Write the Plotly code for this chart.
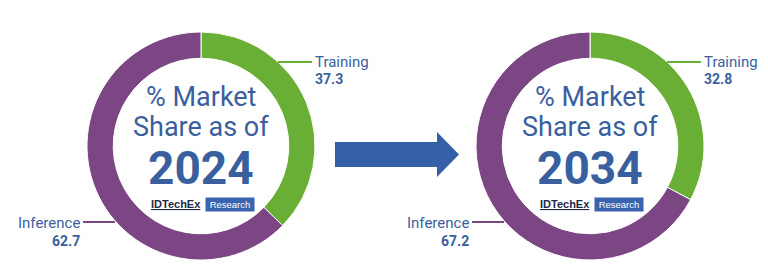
import plotly.graph_objects as go

labels = ["Training", "Inference"]
share_2024 = [37.3, 62.7]
share_2034 = [32.8, 67.2]
years = ["2024", "2034"]

GREEN = "#6AAF35"
PURPLE = "#7B4683"
BLUE = "#3A5F9E"
ARROW = "#3560A8"
W, H = 768, 268

def px(x):
    return x / W

def py(y):
    return 1 - y / H

fig = go.Figure()
centers = [(201, 146), (590, 146)]
R = 114
for (cx, cy), vals in zip(centers, [share_2024, share_2034]):
    fig.add_trace(go.Pie(
        labels=labels, values=vals, hole=0.77, sort=False, direction="clockwise",
        rotation=0, textinfo="none", hoverinfo="label+value",
        marker=dict(colors=[GREEN, PURPLE], line=dict(color="white", width=1)),
        domain=dict(x=[px(cx - R), px(cx + R)], y=[py(cy + R), py(cy - R)]),
        showlegend=False,
    ))

annotations = []
font = "Roboto"
for (cx, cy), yr, vals in zip(centers, years, [share_2024, share_2034]):
    annotations += [
        dict(x=px(cx), y=py(97), text="% Market", font=dict(family=font, size=27, color=BLUE)),
        dict(x=px(cx), y=py(127), text="Share as of", font=dict(family=font, size=27, color=BLUE)),
        dict(x=px(cx), y=py(168), text=f"<b>{yr}</b>", font=dict(family=font, size=46, color=BLUE)),
        dict(x=px(cx + 1), y=py(204), xanchor="right", text="<b><u>IDTechEx</u></b>",
             font=dict(family="Liberation Sans", size=11, color="#1E2A44")),
        dict(x=px(cx + 4), y=py(204), xanchor="left", text=" Research ", bgcolor="#3A64B0",
             font=dict(family="Liberation Sans", size=9.5, color="white"), borderpad=1),
        # Training label
        dict(x=px(cx + 113), y=py(62), xanchor="left", text=labels[0],
             font=dict(family=font, size=15, color=BLUE)),
        dict(x=px(cx + 113), y=py(79), xanchor="left", text=f"<b>{vals[0]}</b>",
             font=dict(family=font, size=14, color=BLUE)),
        # Inference label
        dict(x=px(cx - 120), y=py(223), xanchor="right", text=labels[1],
             font=dict(family=font, size=15, color=BLUE)),
        dict(x=px(cx - 120), y=py(241), xanchor="right", text=f"<b>{vals[1]}</b>",
             font=dict(family=font, size=14, color=BLUE)),
    ]
for a in annotations:
    a.update(xref="paper", yref="paper", showarrow=False, borderpad=a.get("borderpad", 0))
    a.setdefault("xanchor", "center")
    a.setdefault("yanchor", "middle")

shapes = []
for (cx, cy) in centers:
    shapes.append(dict(type="line", xref="paper", yref="paper",
                       x0=px(cx + 77), y0=py(62), x1=px(cx + 111), y1=py(62),
                       line=dict(color=GREEN, width=2)))
    shapes.append(dict(type="line", xref="paper", yref="paper",
                       x0=px(cx - 118), y0=py(222), x1=px(cx - 86), y1=py(222),
                       line=dict(color=PURPLE, width=2)))

# arrow
pts = [(335, 142), (437, 142), (437, 132), (459, 154.5), (437, 177), (437, 167), (335, 167)]
path = "M " + " L ".join(f"{px(x)},{py(y)}" for x, y in pts) + " Z"
shapes.append(dict(type="path", xref="paper", yref="paper", path=path,
                   fillcolor=ARROW, line=dict(width=0)))

fig.update_layout(width=W, height=H, margin=dict(l=0, r=0, t=0, b=0),
                  paper_bgcolor="white", plot_bgcolor="white",
                  annotations=annotations, shapes=shapes)
fig.write_html("out.html")
